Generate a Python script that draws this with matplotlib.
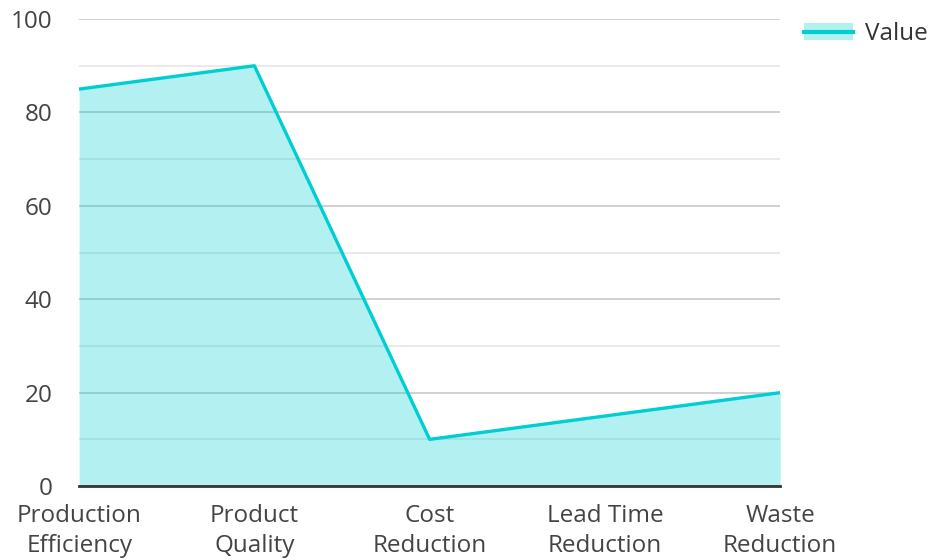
import matplotlib.pyplot as plt
from matplotlib.lines import Line2D
from matplotlib.patches import Patch

categories = ['Production\nEfficiency', 'Product\nQuality', 'Cost\nReduction',
              'Lead Time\nReduction', 'Waste\nReduction']
values = [85, 90, 10, 15, 20]

line_color = '#00CED1'

plt.rcParams['font.family'] = ['Open Sans', 'DejaVu Sans']

fig = plt.figure(figsize=(9.31, 5.6), dpi=100)
ax = fig.add_axes([0.085, 0.132, 0.753, 0.834])

x = list(range(len(categories)))
ax.fill_between(x, values, 0, color=line_color, alpha=0.3, linewidth=0, zorder=2)
ax.plot(x, values, color=line_color, linewidth=2.4, zorder=3)

ax.set_xlim(0, len(categories) - 1)
ax.set_ylim(0, 100)
ax.set_yticks(range(0, 101, 20))
ax.set_yticks(range(10, 100, 20), minor=True)
ax.set_xticks(x)
ax.set_xticklabels(categories)

ax.grid(axis='y', which='major', color='#c8c8c8', linewidth=1.2, zorder=1)
ax.grid(axis='y', which='minor', color='#e6e6e6', linewidth=1.2, zorder=1)
ax.set_axisbelow(True)

for s in ['top', 'right', 'left']:
    ax.spines[s].set_visible(False)
ax.spines['bottom'].set_color('#333333')
ax.spines['bottom'].set_linewidth(2)
ax.spines['bottom'].set_zorder(4)

ax.tick_params(axis='both', which='both', length=0, labelsize=17.5, colors='#444444')
ax.tick_params(axis='y', pad=19)
ax.tick_params(axis='x', pad=13)
for lbl in ax.get_xticklabels():
    lbl.set_linespacing(1.3)

handle = (Patch(facecolor=line_color, alpha=0.3, edgecolor='none'),
          Line2D([], [], color=line_color, linewidth=3))
leg = ax.legend([handle], ['Value'], loc='upper left', bbox_to_anchor=(1.003, 1.04),
                frameon=False, fontsize=17.5, handlelength=2.0, handletextpad=0.5)
for t in leg.get_texts():
    t.set_color('#333333')

fig.savefig('out.png', dpi=100)
